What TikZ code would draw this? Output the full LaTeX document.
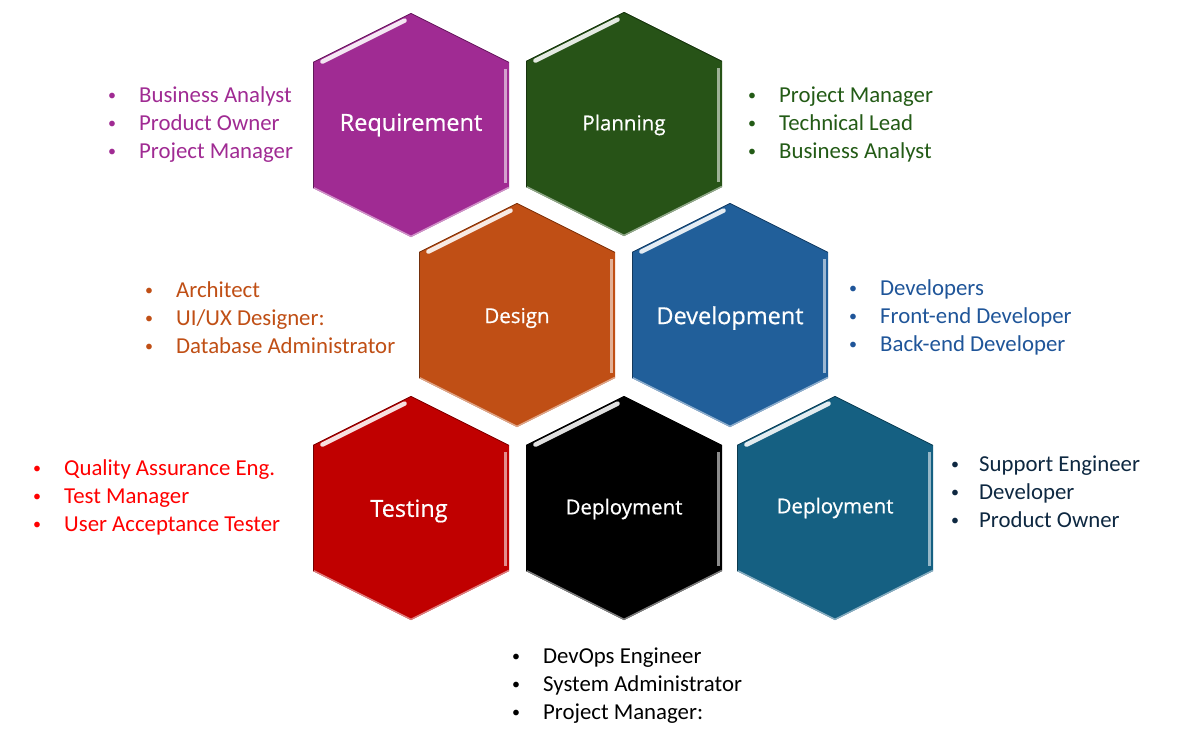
\documentclass[tikz,border=0pt]{standalone}
\usepackage{fontspec}
\setmainfont{Carlito}
\newfontfamily\hexfont[FakeBold=0.6]{Open Sans}
\definecolor{reqc}{HTML}{A02B93}
\definecolor{planc}{HTML}{275317}
\definecolor{desc}{HTML}{C04F15}
\definecolor{devc}{HTML}{215F9A}
\definecolor{testc}{HTML}{C00000}
\definecolor{depc}{HTML}{000000}
\definecolor{tealc}{HTML}{156082}
\definecolor{reqt}{HTML}{A02B93}
\definecolor{plant}{HTML}{235B16}
\definecolor{dest}{HTML}{C04F15}
\definecolor{devt}{HTML}{1F5599}
\definecolor{testt}{HTML}{FF0000}
\definecolor{navyt}{HTML}{0E2841}
\definecolor{blackt}{HTML}{000000}
\newcommand\bulletgap{23pt}
\newcommand\hexcell[4]{% #1 cx, #2 cy, #3 colour, #4 name
  \coordinate (#4) at (#1,#2);
  \begin{scope}
    \clip (#1,#2-112) -- (#1+98,#2-63) -- (#1+98,#2+63) -- (#1,#2+112)
          -- (#1-98,#2+63) -- (#1-98,#2-63) -- cycle;
    \fill[#3] (#1-100,#2-115) rectangle (#1+100,#2+115);
    \draw[#3!50!white, line width=2.5pt] (#1+98,#2+63) -- (#1,#2+112) -- (#1-98,#2+63);
    \draw[#3!45!white, line width=3pt] (#1+94,#2-56) -- (#1+94,#2+58);
    \draw[#3!60!black, line width=1.5pt] (#1-98,#2+63) -- (#1-98,#2-63) -- (#1,#2-112) -- (#1+98,#2-63);
    \draw[#3!12!white, line width=4.5pt, line cap=round] (#1-88.5,#2-63.4) -- (#1-6.5,#2-104.4);
  \end{scope}
}
\newcommand\rolelist[7]{% #1 name, #2 colour, #3 x, #4 first baseline, #5-#7 lines
  \node[role, text=#2] (#1a) at (#3,#4) {#5};
  \node[role, text=#2] (#1b) at (#3,#4+28) {#6};
  \node[role, text=#2] (#1c) at (#3,#4+56) {#7};
}
\tikzset{
  role/.style={anchor=base west, inner sep=0pt, font=\fontsize{22.8}{28}\selectfont,
    execute at begin node={\llap{\raisebox{1.6pt}{\fontsize{16}{16}\selectfont •}\hspace{\bulletgap}}}},
  hexbig/.style={text=white, inner sep=0pt, font=\hexfont\fontsize{23.5}{28}\selectfont},
  hexsmall/.style={text=white, inner sep=0pt, font=\hexfont\fontsize{20.5}{26}\selectfont}
}
\begin{document}
\begin{tikzpicture}[x=1pt, y=-1pt]
\useasboundingbox (0,0) rectangle (1200,753);
\fill[white] (0,0) rectangle (1200,753);

\hexcell{411}{125}{reqc}{req}
\hexcell{624}{124}{planc}{plan}
\hexcell{517}{315}{desc}{des}
\hexcell{730}{315}{devc}{dev}
\hexcell{411}{508}{testc}{test}
\hexcell{624}{508}{depc}{dep}
\hexcell{835}{508}{tealc}{teal}

\node[hexbig] (reqlab) at (411,125) {Requirement};
\node[hexsmall] (planlab) at (624,125) {Planning};
\node[hexsmall] (deslab) at (517,318) {Design};
\node[hexbig] (devlab) at (730,318) {Development};
\node[hexbig] (testlab) at (409,511) {Testing};
\node[hexsmall] (deplab) at (624,509) {Deployment};
\node[hexsmall] (teallab) at (835,508) {Deployment};

\rolelist{rq}{reqt}{139}{102}{Business Analyst}{Product Owner}{Project Manager}
\rolelist{pl}{plant}{779}{102}{Project Manager}{Technical Lead}{Business Analyst}
\rolelist{ds}{dest}{176}{297}{Architect}{UI/UX Designer:}{Database Administrator}
\rolelist{dv}{devt}{880}{295}{Developers}{Front-end Developer}{Back-end Developer}
\rolelist{ts}{testt}{64}{475}{Quality Assurance Eng.}{Test Manager}{User Acceptance Tester}
\rolelist{dp}{blackt}{543}{663}{DevOps Engineer}{System Administrator}{Project Manager:}
\renewcommand\bulletgap{20pt}
\rolelist{tl}{navyt}{979}{471}{Support Engineer}{Developer}{Product Owner}
\end{tikzpicture}
\end{document}
